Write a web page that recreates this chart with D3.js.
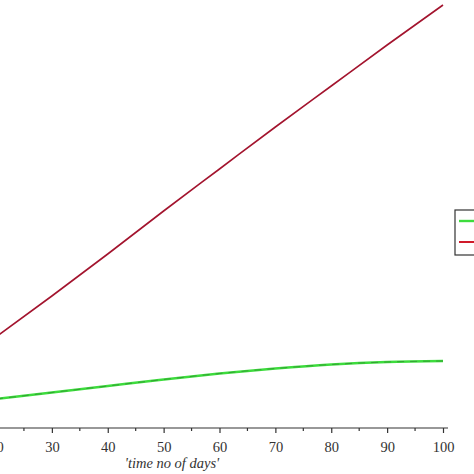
<!DOCTYPE html>
<html><head><meta charset="utf-8">
<script src="https://cdn.jsdelivr.net/npm/d3@7"></script>
<style>html,body{margin:0;padding:0;background:#fff;overflow:hidden}</style>
</head><body>
<svg id="c" width="474" height="474"></svg>
<script>
const days = [20, 30, 40, 50, 60, 70, 80, 90, 100];
const redSeries = [91, 132, 174, 217, 259, 301, 342, 383, 423];
const greenSeries = [29, 35.5, 42, 48.5, 54.5, 59.5, 63.5, 66, 67];
const majorTicks = [20, 30, 40, 50, 60, 70, 80, 90, 100];
const minorTicks = [25, 35, 45, 55, 65, 75, 85, 95];
const xTitle = "'time no of days'";

const svg = d3.select("#c");
const x = d3.scaleLinear().domain([20, 100]).range([-4, 443]);
const y = d3.scaleLinear().domain([0, 428]).range([428, 0]);

const line = d3.line().x((d,i)=>x(days[i])).y(d=>y(d)).curve(d3.curveMonotoneX);

// axis
const axisG = svg.append("g").attr("transform","translate(0,428)");
axisG.call(d3.axisBottom(x).tickValues(majorTicks).tickSize(5).tickFormat(d3.format("d")).tickSizeOuter(0));
axisG.select(".domain").remove();
axisG.append("line").attr("x1",0).attr("x2",448).attr("y1",0).attr("y2",0).attr("stroke","#333").attr("stroke-width",1.2);
axisG.selectAll(".tick line").attr("stroke","#333").attr("stroke-width",1.2);
axisG.selectAll(".tick text").attr("font-family","Liberation Serif").attr("font-size",14.5).attr("fill","#333").attr("dy","1.1em");
const minorG = svg.append("g").attr("transform","translate(0,428)");
minorG.selectAll("line").data(minorTicks).join("line")
  .attr("x1",d=>x(d)).attr("x2",d=>x(d)).attr("y1",0).attr("y2",3)
  .attr("stroke","#333").attr("stroke-width",1.2);

svg.append("text").attr("x",172).attr("y",468).attr("text-anchor","middle")
  .attr("font-family","Liberation Serif").attr("font-style","italic").attr("font-size",14.5).attr("fill","#333")
  .text(xTitle);

// lines
svg.append("path").datum(redSeries).attr("d",line).attr("fill","none").attr("stroke","#a3142e").attr("stroke-width",1.6);
svg.append("path").datum(greenSeries).attr("d",line).attr("fill","none").attr("stroke","#3ddc3d").attr("stroke-width",2.6);
svg.append("path").datum(greenSeries).attr("d",line).attr("fill","none").attr("stroke","#2a7a2a").attr("stroke-width",1).attr("stroke-dasharray","7,6").attr("opacity",0.6);

// legend
svg.append("rect").attr("x",455).attr("y",210).attr("width",40).attr("height",45).attr("fill","#fff").attr("stroke","#333").attr("stroke-width",1.2);
svg.append("line").attr("x1",459).attr("x2",480).attr("y1",221).attr("y2",221).attr("stroke","#3ddc3d").attr("stroke-width",2.4);
svg.append("line").attr("x1",459).attr("x2",480).attr("y1",242).attr("y2",242).attr("stroke","#d01a2a").attr("stroke-width",2);
</script>
</body></html>
